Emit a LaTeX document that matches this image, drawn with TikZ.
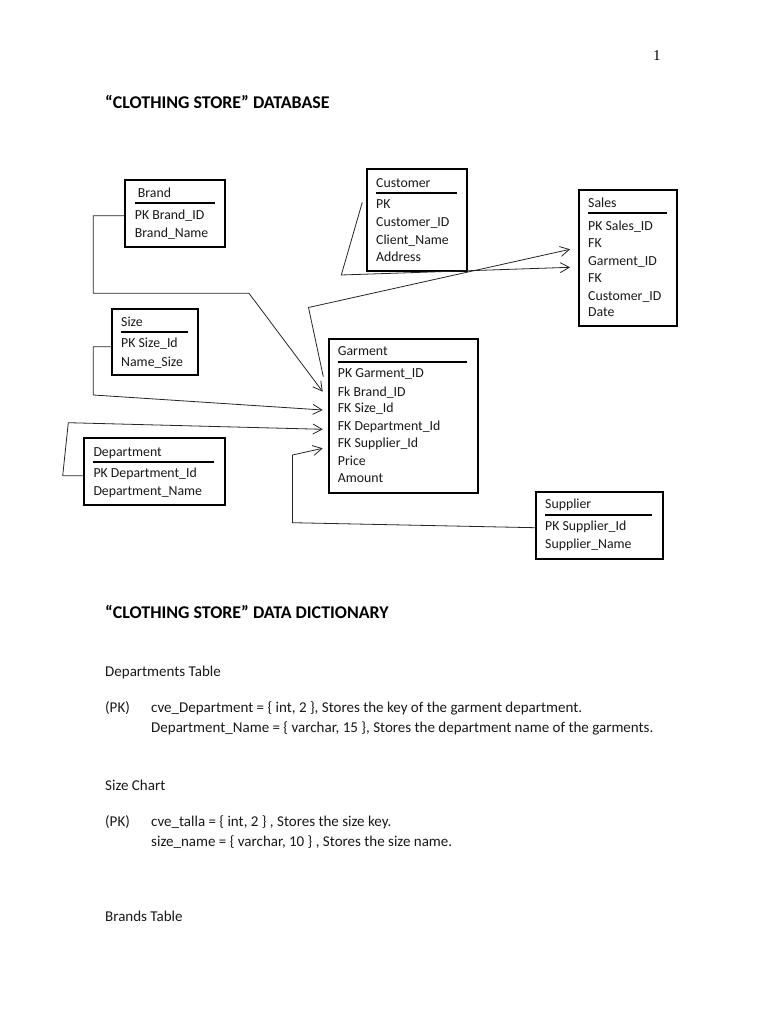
\documentclass[tikz,border=0pt]{standalone}
\usepackage{fontspec}
\setmainfont{Carlito}
\newfontfamily\timesf{Liberation Serif}
\usetikzlibrary{arrows.meta,calc}
\tikzset{
  box/.style={draw=black, line width=2.2pt, rectangle, minimum width=#1, anchor=north west, inner sep=0pt},
  hdr/.style={draw=black, line width=1.8pt},
  txt/.style={anchor=base west, inner sep=0pt, font=\fontsize{13.8}{16}\selectfont, text=black!90},
  body/.style={anchor=base west, inner sep=0pt, font=\fontsize{15}{18}\selectfont, text=black!90},
  ttl/.style={anchor=base west, inner sep=0pt, font=\fontsize{17.9}{20}\selectfont\bfseries, text=black},
  conn/.style={draw=black!85, line width=0.8pt},
  arr/.style={conn, -{Straight Barb[length=9pt,width=10pt,line width=0.8pt]}}
}
\begin{document}
\begin{tikzpicture}[x=1pt,y=-1pt]
\fill[white] (0,0) rectangle (768,1024);
\useasboundingbox (0,0) rectangle (768,1024);

% page number and titles
\node[anchor=base west, inner sep=0pt, font=\timesf\fontsize{15}{18}\selectfont] (pnum) at (653,61) {1};
\node[ttl] (title1) at (105,109) {“CLOTHING STORE” DATABASE};
\node[ttl] (title2) at (105,618) {“CLOTHING STORE” DATA DICTIONARY};

% Brand
\node[box=100pt, minimum height=67pt] (brand) at (124,179) {};
\draw[hdr] (134.7,203.3) -- (214.7,203.3);
\node[txt] (brandT) at (137.7,197.5) {Brand};
\node[txt] (brand1) at (134.7,219.5) {PK Brand\_ID};
\node[txt] (brand2) at (134.7,237.2) {Brand\_Name};

% Customer
\node[box=100pt, minimum height=102pt] (cust) at (366,168) {};
\draw[hdr] (376,193.3) -- (456.7,193.3);
\node[txt] (custT) at (376,187.8) {Customer};
\node[txt] (cust1) at (376,208.8) {PK};
\node[txt] (cust2) at (376,226.5) {Customer\_ID};
\node[txt] (cust3) at (376,244.5) {Client\_Name};
\node[txt] (cust4) at (376,261.8) {Address};

% Sales
\node[box=98pt, minimum height=136pt] (sales) at (578,189) {};
\draw[hdr] (588,213.3) -- (666.7,213.3);
\node[txt] (salesT) at (588,207.8) {Sales};
\node[txt] (sales1) at (588,230.2) {PK Sales\_ID};
\node[txt] (sales2) at (588,247.8) {FK};
\node[txt] (sales3) at (588,265.2) {Garment\_ID};
\node[txt] (sales4) at (588,282.8) {FK};
\node[txt] (sales5) at (588,300.5) {Customer\_ID};
\node[txt] (sales6) at (588,316.8) {Date};

% Size
\node[box=86pt, minimum height=66pt] (size) at (111,308) {};
\draw[hdr] (121,332.3) -- (187.7,332.3);
\node[txt] (sizeT) at (121,326.2) {Size};
\node[txt] (size1) at (121,347.8) {PK Size\_Id};
\node[txt] (size2) at (121,366.2) {Name\_Size};

% Garment
\node[box=149pt, minimum height=154pt] (garm) at (328,338) {};
\draw[hdr] (337.7,362) -- (466.7,362);
\node[txt] (garmT) at (337.7,355.5) {Garment};
\node[txt] (garm1) at (337.7,377.2) {PK Garment\_ID};
\node[txt] (garm2) at (337.7,396.2) {Fk Brand\_ID};
\node[txt] (garm3) at (337.7,412.8) {FK Size\_Id};
\node[txt] (garm4) at (337.7,430.5) {FK Department\_Id};
\node[txt] (garm5) at (337.7,447.8) {FK Supplier\_Id};
\node[txt] (garm6) at (337.7,465.5) {Price};
\node[txt] (garm7) at (337.7,482.8) {Amount};

% Department
\node[box=141pt, minimum height=67pt] (dept) at (83,437) {};
\draw[hdr] (93.3,462.3) -- (214.3,462.3);
\node[txt] (deptT) at (93.3,456.2) {Department};
\node[txt] (dept1) at (93.3,477.8) {PK Department\_Id};
\node[txt] (dept2) at (93.3,495.5) {Department\_Name};

% Supplier
\node[box=127pt, minimum height=67pt] (supp) at (535,491) {};
\draw[hdr] (545,515) -- (652.3,515);
\node[txt] (suppT) at (545,508.5) {Supplier};
\node[txt] (supp1) at (545,530.5) {PK Supplier\_Id};
\node[txt] (supp2) at (545,548.8) {Supplier\_Name};

% connector end points
\coordinate (gBrand) at (322.7,391.7);
\coordinate (gSize) at (322.7,410);
\coordinate (gDept) at (322.7,429.3);
\coordinate (gSupp) at (322.7,448.3);
\coordinate (sGarm) at (570,249.3);
\coordinate (sCust) at (570,267.3);
\coordinate (custStart) at (362.3,202.3);
\coordinate (garmStart) at (323.3,376.7);

% connectors
\draw[arr] (brand.west |- 0,215.7) -- (93.3,215.7) -- (93.3,293.3) -- (249,293.3) -- (gBrand);
\draw[arr] (custStart) -- (341.3,275) -- (sCust);
\draw[arr] (garmStart) -- (308.5,307.5) -- (sGarm);
\draw[arr] (size.west |- 0,346.7) -- (93.3,346.7) -- (93.3,395) -- (gSize);
\draw[arr] (dept.west |- 0,475.7) -- (62.7,475.7) -- (68.3,422.7) -- (gDept);
\draw[arr] (supp.west |- 0,527.7) -- (292.5,522.7) -- (292.5,455) -- (gSupp);

% data dictionary text
\node[body] (dt1) at (105,676.5) {Departments Table};
\node[body] (pk1) at (105,712.5) {(PK)};
\node[body] (d1) at (151,712.5) {cve\_Department = \{ int, 2 \}, Stores the key of the garment department.};
\node[body] (d2) at (151,732.5) {Department\_Name = \{ varchar, 15 \}, Stores the department name of the garments.};
\node[body] (dt2) at (105,790.5) {Size Chart};
\node[body] (pk2) at (105,826.5) {(PK)};
\node[body] (s1) at (151,826.5) {cve\_talla = \{ int, 2 \} , Stores the size key.};
\node[body] (s2) at (151,846.5) {size\_name = \{ varchar, 10 \} , Stores the size name.};
\node[body] (dt3) at (105,921.5) {Brands Table};
\end{tikzpicture}
\end{document}
